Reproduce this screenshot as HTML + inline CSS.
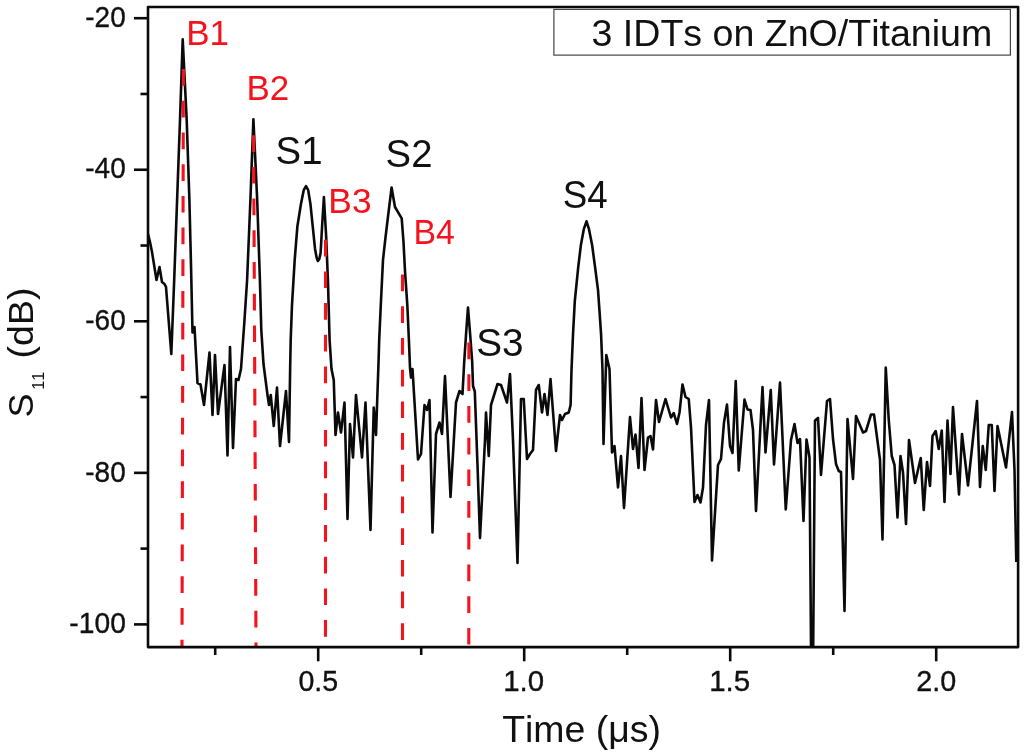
<!DOCTYPE html>
<html><head><meta charset="utf-8"><title>S11 time domain</title>
<style>
html,body{margin:0;padding:0;background:#fff;}
body{width:1025px;height:756px;overflow:hidden;}
svg{display:block;}
text{font-family:"Liberation Sans",Arial,sans-serif;font-kerning:none;stroke-linejoin:round;}
</style></head><body>
<svg width="1025" height="756" viewBox="0 0 1025 756">
<rect x="0" y="0" width="1025" height="756" fill="#fff"/>
<clipPath id="plotclip"><rect x="148.0" y="6.95" width="870.1" height="640.15"/></clipPath>
<polyline clip-path="url(#plotclip)" points="148,234 150,242 152,252 156.5,280 159.5,267 162,282 164.5,284 166,287 171.3,354 174.2,280 177.1,200 180,120 182.7,39.4 186.7,120 189.4,200 191,265 192.5,332.5 194.5,327 197.5,383 200.5,384.5 204,405 209.5,352.5 212.5,415 215,355 218,414 224.5,365 227.5,455.5 230,347 233,448 236,379 238.5,380 241,369 244.5,320 247.1,280 250.4,200 253.4,119.4 257.2,200 259.9,280 261.3,330 263.5,364 267.5,395 269,405 270.75,395 273.75,426 277,387.5 280,446 286,391 289,442 290.2,365 290.7,340 292,304.8 294.7,259.9 297.4,226.2 301,203.7 303.7,190.2 306,186.2 308.2,190.2 310.4,203.7 312.7,226.2 315,248.7 316.6,257.5 317.9,261 319.3,259 320.6,253.1 322.1,226.2 323.9,197 326.2,237.4 328,282.4 329.6,340 331.5,369 333.75,380 335.5,435 338,412.5 341,432.5 344.5,402.5 347.5,519 350,424 353,457.5 356,395 362,457.5 365.5,402.5 370.5,530 373.75,407.5 376,435 378.6,360 379.2,340 380.8,304.8 383,259.9 385.5,237.4 388.2,215 391.6,187.5 393.4,198 395,207 398.3,212.7 401.7,218.3 403.5,242 405,271 407.3,304.8 408.9,340 410,367.5 411,377.5 412.5,369 418,459.5 421,454 424.5,405 427,410 429.5,400 432.5,532.5 436,434 439.5,422.5 442,434 445,376 450.5,497 456,402.5 459.5,391 462.5,394 464.2,362 466.2,332 468,307.5 470.2,335 472.2,362 473,386 474.8,391.5 477.5,465 480,538 485,440 486,412.5 488.75,456 491,405 497.5,384 501,385 507,402.5 510,374 513,440 517.5,563 521,399 523.75,399 527,459 530,454 533,450 536,390 538.75,385 542,412.5 544.5,394 547.5,415 550.5,379 556,451 560,415 562,420 565,414 568.75,412.5 570.6,405 571.5,370 573,334.8 574.8,301.1 578.2,267.4 580.9,244.9 583.8,229.2 586.5,221.3 589,229.2 592.1,244.9 595.1,267.4 598,289.9 599.6,312.4 601.1,334.8 602.5,370 603.5,444 606.3,355 609.5,369 612,452.5 614.5,446 618,487.5 621,456 624,508 630,417 633,449 635.5,434.5 638.5,468 641.5,398 644.5,470 648,437.5 650.5,436 653,449.5 656,400 659,422 665.5,399 671,417.5 673.75,413 677,424 679.5,412.5 682.5,384.5 685.5,397 688.75,399 691,427.5 694.5,502 697.5,495 700.5,502.5 703,487.5 706,425 709,400 712,560.5 718,465 721,459 724,422.5 727,404.5 730,446 732.5,453 735.75,381 738.75,470.5 744.5,399.5 747.5,409.5 750.5,410 753,430 756,511 762.5,387 765.5,452.5 770.75,390 774,464.5 780,382.5 785.75,509.5 791,440 794.5,424 797.5,443 800,439 803.5,521 806.5,439.5 809.5,457.5 812.1,780 815,420.5 818,418 821,475 827,401 830,399 833,439 836,464 838.75,471 841,472 844.5,611 847.5,419 853,479 856,416 863,432.5 866,431 871,414.5 874,414.5 880,460 882.5,539.5 885.75,367.5 888.75,420 891.75,456 894.5,465 897.5,517.5 900.5,456 903,472.5 906,524 909,440 915,483 920.75,458 923.75,510 927,462 930,486 932.5,436 935.75,431 938.75,449 941.75,430.5 944.5,502 947.5,420.5 950.5,474 953,407 959,494.5 962,434 968,485.5 977,401 980,487 982.75,446 985.75,470 988.75,425 991.75,425 994.5,491 997.5,426 1006,467.5 1012,412 1014.5,470 1016.3,562" fill="none" stroke="#0a0a0a" stroke-width="2.6" stroke-linejoin="round" stroke-linecap="butt"/>
<line x1="183.4" y1="69.1" x2="182.0" y2="647" stroke="#f4121c" stroke-width="3.1" stroke-dasharray="16.7 15"/>
<line x1="253.6" y1="135.2" x2="256.0" y2="647" stroke="#f4121c" stroke-width="3.1" stroke-dasharray="16.7 15"/>
<line x1="325.5" y1="239.7" x2="325.5" y2="647" stroke="#f4121c" stroke-width="3.1" stroke-dasharray="16.7 15"/>
<line x1="402.5" y1="274.6" x2="402.5" y2="647" stroke="#f4121c" stroke-width="3.1" stroke-dasharray="16.7 15"/>
<line x1="468.9" y1="342.6" x2="468.8" y2="647" stroke="#f4121c" stroke-width="3.1" stroke-dasharray="16.7 15"/>
<rect x="148.0" y="6.95" width="870.1" height="640.15" fill="none" stroke="#0a0a0a" stroke-width="2.6" stroke-linejoin="round"/>
<line x1="134" y1="18.2" x2="148.0" y2="18.2" stroke="#0a0a0a" stroke-width="2.6"/>
<text transform="translate(85.28,26.9) scale(0.9673,1)" font-size="28.9" fill="#111" stroke="#111" stroke-width="0.35">-20</text>
<line x1="140.5" y1="93.97500000000001" x2="148.0" y2="93.97500000000001" stroke="#0a0a0a" stroke-width="2.6"/>
<line x1="134" y1="169.75" x2="148.0" y2="169.75" stroke="#0a0a0a" stroke-width="2.6"/>
<text transform="translate(85.28,178.45) scale(0.9673,1)" font-size="28.9" fill="#111" stroke="#111" stroke-width="0.35">-40</text>
<line x1="140.5" y1="245.525" x2="148.0" y2="245.525" stroke="#0a0a0a" stroke-width="2.6"/>
<line x1="134" y1="321.3" x2="148.0" y2="321.3" stroke="#0a0a0a" stroke-width="2.6"/>
<text transform="translate(85.28,330.0) scale(0.9673,1)" font-size="28.9" fill="#111" stroke="#111" stroke-width="0.35">-60</text>
<line x1="140.5" y1="397.07500000000005" x2="148.0" y2="397.07500000000005" stroke="#0a0a0a" stroke-width="2.6"/>
<line x1="134" y1="472.85" x2="148.0" y2="472.85" stroke="#0a0a0a" stroke-width="2.6"/>
<text transform="translate(85.28,481.55) scale(0.9673,1)" font-size="28.9" fill="#111" stroke="#111" stroke-width="0.35">-80</text>
<line x1="140.5" y1="548.625" x2="148.0" y2="548.625" stroke="#0a0a0a" stroke-width="2.6"/>
<line x1="134" y1="624.4000000000001" x2="148.0" y2="624.4000000000001" stroke="#0a0a0a" stroke-width="2.6"/>
<text transform="translate(69.37,633.1) scale(0.9768,1)" font-size="28.9" fill="#111" stroke="#111" stroke-width="0.35">-100</text>
<line x1="318.2" y1="647.1" x2="318.2" y2="661.3" stroke="#0a0a0a" stroke-width="2.6"/>
<text transform="translate(298.46,691.0) scale(0.9948,1)" font-size="28.7" fill="#111" stroke="#111" stroke-width="0.35">0.5</text>
<line x1="524.2" y1="647.1" x2="524.2" y2="661.3" stroke="#0a0a0a" stroke-width="2.6"/>
<text transform="translate(503.24,691.0) scale(1.0261,1)" font-size="28.7" fill="#111" stroke="#111" stroke-width="0.35">1.0</text>
<line x1="730.2" y1="647.1" x2="730.2" y2="661.3" stroke="#0a0a0a" stroke-width="2.6"/>
<text transform="translate(709.24,691.0) scale(1.0261,1)" font-size="28.7" fill="#111" stroke="#111" stroke-width="0.35">1.5</text>
<line x1="936.2" y1="647.1" x2="936.2" y2="661.3" stroke="#0a0a0a" stroke-width="2.6"/>
<text transform="translate(916.16,691.0) scale(1.0024,1)" font-size="28.7" fill="#111" stroke="#111" stroke-width="0.35">2.0</text>
<line x1="215.2" y1="647.1" x2="215.2" y2="655" stroke="#0a0a0a" stroke-width="2.6"/>
<line x1="421.2" y1="647.1" x2="421.2" y2="655" stroke="#0a0a0a" stroke-width="2.6"/>
<line x1="627.2" y1="647.1" x2="627.2" y2="655" stroke="#0a0a0a" stroke-width="2.6"/>
<line x1="833.2" y1="647.1" x2="833.2" y2="655" stroke="#0a0a0a" stroke-width="2.6"/>
<text transform="translate(502.15,742.2) scale(1.0156,1)" font-size="36.9" fill="#111">Time (μs)</text>
<g aria-label="S11 (dB)">
<text transform="translate(32.9,417.41) rotate(-90) scale(1.0209,1)" font-size="35.4" fill="#111">S</text>
<text transform="translate(43.8,389.81) rotate(-90) scale(0.9604,1)" font-size="17.0" fill="#111">11</text>
<text transform="translate(32.9,358.45) rotate(-90) scale(1.0597,1)" font-size="35.4" fill="#111">(dB)</text>
</g>
<rect x="553.9" y="9.4" width="456.5" height="45.7" fill="#fff" stroke="#444" stroke-width="1.2"/>
<text transform="translate(591.50,46.4) scale(1.0239,1)" font-size="36.7" fill="#111">3 IDTs on ZnO/Titanium</text>
<text transform="translate(186.20,45.0) scale(1.0000,1)" font-size="35" fill="#f4121c">B1</text>
<text transform="translate(246.50,99.7) scale(0.9987,1)" font-size="35" fill="#f4121c">B2</text>
<text transform="translate(275.58,163.6) scale(1.0000,1)" font-size="38.4" fill="#111">S1</text>
<text transform="translate(328.37,213.1) scale(1.0104,1)" font-size="35" fill="#f4121c">B3</text>
<text transform="translate(385.58,166.9) scale(1.0027,1)" font-size="38.2" fill="#111">S2</text>
<text transform="translate(413.40,244.3) scale(0.9653,1)" font-size="35" fill="#f4121c">B4</text>
<text transform="translate(476.26,356.2) scale(1.0147,1)" font-size="38.2" fill="#111">S3</text>
<text transform="translate(562.86,208.1) scale(0.9622,1)" font-size="38.2" fill="#111">S4</text>
</svg>
</body></html>
